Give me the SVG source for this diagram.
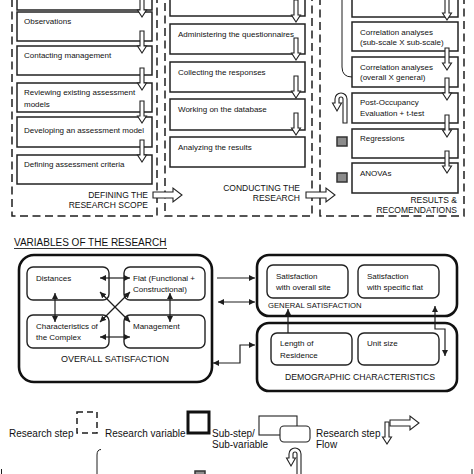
<svg xmlns="http://www.w3.org/2000/svg" width="474" height="474" viewBox="0 0 474 474">
<style>
text{font-family:"Liberation Sans",Arial,sans-serif;fill:#111}
.t8{font-size:8px}
.cap{font-size:8.5px}
.lg{font-size:10px}
.step{fill:none;stroke:#1e1e1e;stroke-width:1.5;stroke-dasharray:8 4.5}
.box{fill:#fff;stroke:#222;stroke-width:1.5}
.var{fill:#fff;stroke:#111;stroke-width:2.6}
.sub{fill:#fff;stroke:#222;stroke-width:1.4}
.hol{fill:#fff;stroke:#222;stroke-width:1.1}
.ln{fill:none;stroke:#1e1e1e;stroke-width:1.2}
.gsq{fill:#8c8c8c;stroke:#333;stroke-width:1.5}
</style>
<defs>
<marker id="ah" viewBox="0 0 6 6" refX="6" refY="3" markerWidth="6" markerHeight="6" markerUnits="userSpaceOnUse" orient="auto-start-reverse"><path d="M0,0 L6,3 L0,6 z" fill="#1e1e1e"/></marker>
<path id="darrow" d="M-2,0 H2 V15 H4.5 L0,22 L-4.5,15 H-2 Z"/>
<path id="rarrow" d="M0,-3 H20 V-7 L29,0 L20,7 V3 H0 Z"/>
<path id="uturn" d="M343,123 V99 A2,2 0 0 0 339,99 V103 H341.5 L337,111 L332.5,103 H335 V99 A6,6 0 0 1 347,99 V123 Z"/>
</defs>
<rect width="474" height="474" fill="#fff"/>

<!-- Panel 1 -->
<g id="step-defining">
<rect class="step" x="12" y="-10" width="145" height="226"/>
<rect class="box" x="17" y="-20" width="135" height="30"/>
<rect class="box" x="17" y="12" width="135" height="29"/>
<text class="t8" x="24" y="23.5">Observations</text>
<rect class="box" x="17" y="46" width="135" height="29"/>
<text class="t8" x="24" y="58">Contacting management</text>
<rect class="box" x="17" y="83" width="135" height="29"/>
<text class="t8" x="24" y="95">Reviewing existing assessment</text>
<text class="t8" x="24" y="106.5">models</text>
<rect class="box" x="17" y="117" width="135" height="30"/>
<text class="t8" x="24" y="133">Developing an assessment model</text>
<rect class="box" x="17" y="155" width="135" height="29"/>
<text class="t8" x="24" y="167">Defining assessment criteria</text>
<g class="hol">
<use href="#darrow" x="142" y="-5"/>
<use href="#darrow" x="142" y="31"/>
<use href="#darrow" x="142" y="68"/>
<use href="#darrow" x="142" y="101"/>
<use href="#darrow" x="142" y="140"/>
</g>
<text class="cap" x="148" y="197.5" text-anchor="end">DEFINING THE</text>
<text class="cap" x="148" y="207.5" text-anchor="end">RESEARCH SCOPE</text>
</g>

<!-- Panel 2 -->
<g id="step-conducting">
<rect class="step" x="165" y="-10" width="147" height="226"/>
<rect class="box" x="170" y="-20" width="135" height="36"/>
<rect class="box" x="170" y="24" width="135" height="30"/>
<text class="t8" x="178" y="37">Administering the questionnaires</text>
<rect class="box" x="170" y="62" width="135" height="30"/>
<text class="t8" x="178" y="75">Collecting the responses</text>
<rect class="box" x="170" y="99" width="135" height="31"/>
<text class="t8" x="178" y="112">Working on the database</text>
<rect class="box" x="170" y="137" width="135" height="30"/>
<text class="t8" x="178" y="150">Analyzing the results</text>
<g class="hol">
<use href="#darrow" x="296" y="0"/>
<use href="#darrow" x="296" y="38"/>
<use href="#darrow" x="296" y="76"/>
<use href="#darrow" x="296" y="113"/>
</g>
<text class="cap" x="300" y="191" text-anchor="end">CONDUCTING THE</text>
<text class="cap" x="300" y="201" text-anchor="end">RESEARCH</text>
</g>

<!-- Panel 3 -->
<g id="step-results">
<rect class="step" x="320" y="-10" width="144" height="226"/>
<rect class="box" x="352" y="-20" width="106" height="37"/>
<rect class="box" x="352" y="22" width="106" height="29"/>
<text class="t8" x="360" y="35">Correlation analyses</text>
<text class="t8" x="360" y="45">(sub-scale X sub-scale)</text>
<rect class="box" x="352" y="57" width="106" height="30"/>
<text class="t8" x="360" y="70">Correlation analyses</text>
<text class="t8" x="360" y="80">(overall X general)</text>
<rect class="box" x="352" y="93" width="106" height="30"/>
<text class="t8" x="360" y="105">Post-Occupancy</text>
<text class="t8" x="360" y="116">Evaluation + t-test</text>
<rect class="box" x="352" y="129" width="106" height="29"/>
<text class="t8" x="360" y="141">Regressions</text>
<rect class="box" x="352" y="163" width="106" height="30"/>
<text class="t8" x="360" y="176">ANOVAs</text>
<path class="ln" style="stroke-width:1" d="M342,-5 V67 Q342,77 352,77"/>
<use href="#uturn" class="hol"/>
<rect class="gsq" x="337" y="137" width="10" height="9"/>
<rect class="gsq" x="337" y="173" width="10" height="9"/>
<g class="hol">
<use href="#darrow" x="447" y="-2"/>
<use href="#darrow" x="447" y="48"/>
<use href="#darrow" x="447" y="78"/>
<use href="#darrow" x="447" y="115"/>
<use href="#darrow" x="447" y="151"/>
</g>
<text class="cap" x="457" y="203" text-anchor="end">RESULTS &amp;</text>
<text class="cap" x="457" y="213" text-anchor="end">RECOMENDATIONS</text>
</g>

<g id="step-flow" class="hol">
<use href="#rarrow" x="153" y="195"/>
<use href="#rarrow" x="306" y="195"/>
</g>

<!-- Variables -->
<text x="14" y="246" style="font-size:10px">VARIABLES OF THE RESEARCH</text>
<line x1="14" y1="248.5" x2="167" y2="248.5" stroke="#1e1e1e" stroke-width="0.9"/>

<g id="var-overall">
<rect class="var" x="19" y="255" width="193" height="127" rx="15"/>
<text x="115" y="362" text-anchor="middle" style="font-size:9px">OVERALL SATISFACTION</text>
</g>
<g id="sub-distances">
<rect class="sub" x="27" y="267" width="82" height="33" rx="6"/>
<text class="t8" x="36" y="281">Distances</text>
</g>
<g id="sub-flat">
<rect class="sub" x="124" y="267" width="81" height="33" rx="6"/>
<text class="t8" x="133" y="281">Flat (Functional +</text>
<text class="t8" x="133" y="292">Constructional)</text>
</g>
<g id="sub-complex">
<rect class="sub" x="27" y="315" width="82" height="33" rx="6"/>
<text class="t8" x="36" y="329">Characteristics of</text>
<text class="t8" x="36" y="340">the Complex</text>
</g>
<g id="sub-management">
<rect class="sub" x="124" y="315" width="81" height="33" rx="6"/>
<text class="t8" x="133" y="329">Management</text>
</g>

<g id="var-general">
<rect class="var" x="257" y="255" width="200" height="61" rx="12"/>
<text x="268" y="308" style="font-size:7.7px">GENERAL SATISFACTION</text>
</g>
<g id="sub-site">
<rect class="sub" x="267" y="265" width="81" height="33" rx="6"/>
<text class="t8" x="276" y="279">Satisfaction</text>
<text class="t8" x="276" y="290">with overall site</text>
</g>
<g id="sub-specflat">
<rect class="sub" x="358" y="265" width="81" height="33" rx="6"/>
<text class="t8" x="367" y="279">Satisfaction</text>
<text class="t8" x="367" y="290">with specific flat</text>
</g>

<g id="var-demographic">
<rect class="var" x="257" y="323" width="200" height="68" rx="12"/>
<text x="360" y="380" text-anchor="middle" style="font-size:8.7px">DEMOGRAPHIC CHARACTERISTICS</text>
</g>
<g id="sub-length">
<rect class="sub" x="271" y="333" width="81" height="32" rx="6"/>
<text class="t8" x="280" y="346">Length of</text>
<text class="t8" x="280" y="358">Residence</text>
</g>
<g id="sub-unit">
<rect class="sub" x="358" y="333" width="81" height="32" rx="6"/>
<text class="t8" x="367" y="346">Unit size</text>
</g>

<g id="connectors" class="ln">
<path d="M100,278 H130" marker-start="url(#ah)" marker-end="url(#ah)"/>
<path d="M100,337 H130" marker-start="url(#ah)" marker-end="url(#ah)"/>
<path d="M55,293 V322" marker-start="url(#ah)" marker-end="url(#ah)"/>
<path d="M170,293 V322" marker-start="url(#ah)" marker-end="url(#ah)"/>
<path d="M100,292 L130,322" marker-start="url(#ah)" marker-end="url(#ah)"/>
<path d="M130,292 L100,322" marker-start="url(#ah)" marker-end="url(#ah)"/>
<path d="M217,278 H255" marker-end="url(#ah)"/>
<path d="M218,302 H255" marker-start="url(#ah)" marker-end="url(#ah)"/>
<path d="M255,345 H240 V363 H213" marker-start="url(#ah)" marker-end="url(#ah)"/>
<path d="M288,333 V309" marker-end="url(#ah)"/>
<path d="M435,306 V329 H445 V356" marker-start="url(#ah)" marker-end="url(#ah)"/>
</g>

<!-- Legend -->
<g id="legend">
<text class="lg" x="9" y="436.5">Research step</text>
<rect class="step" x="77" y="412" width="20" height="21" style="stroke-dasharray:6 4"/>
<text class="lg" x="105" y="436.5">Research variable</text>
<rect x="188" y="412" width="21" height="21" fill="#fff" stroke="#111" stroke-width="3"/>
<text class="lg" x="212" y="436.5">Sub-step/</text>
<text class="lg" x="212" y="447.5">Sub-variable</text>
<rect x="259" y="416" width="38" height="19" fill="#fff" stroke="#222" stroke-width="1.1"/>
<rect x="280" y="426" width="30" height="16" rx="4" fill="#fff" stroke="#222" stroke-width="1.1"/>
<text class="lg" x="316" y="436.5">Research step</text>
<text class="lg" x="316" y="447.5">Flow</text>
<use href="#darrow" x="387" y="422" class="hol"/>
<use href="#rarrow" x="390" y="423" class="hol"/>
<path class="ln" style="stroke-width:1" d="M101,449.5 Q97,449.5 97,455 V476"/>
<use href="#uturn" class="hol" transform="translate(-46,355)"/>
<rect class="gsq" x="195" y="471" width="10" height="9"/>
<line x1="1.5" y1="469" x2="1.5" y2="474" stroke="#1e1e1e" stroke-width="1"/>
<line x1="472" y1="469" x2="472" y2="474" stroke="#1e1e1e" stroke-width="1"/>
</g>
</svg>
